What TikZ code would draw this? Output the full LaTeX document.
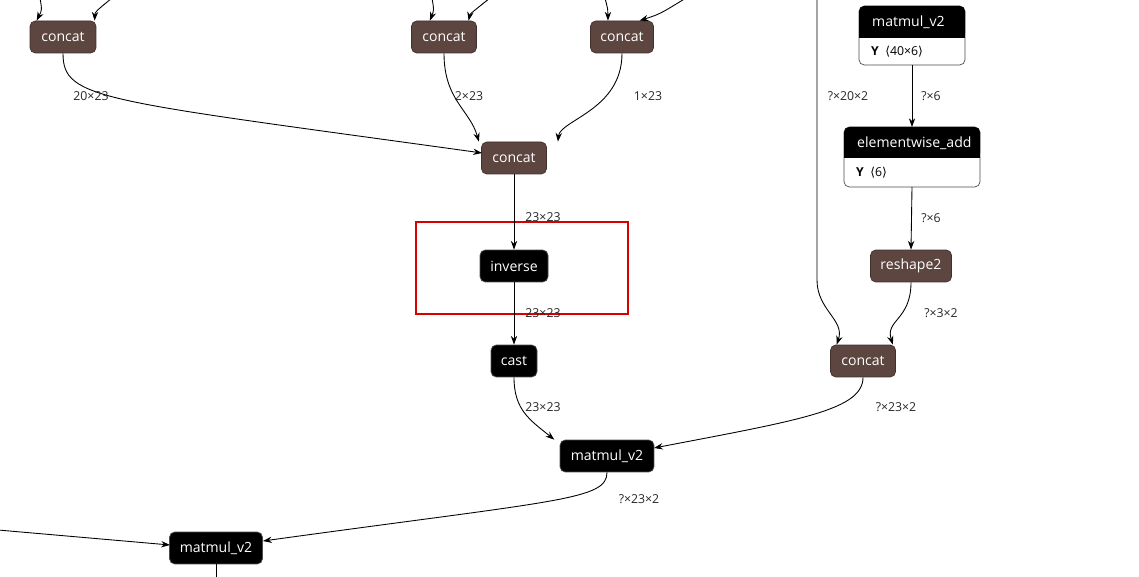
\documentclass[tikz,border=0pt]{standalone}
\usepackage{fontspec}
\setmainfont{Open Sans}
\newfontfamily\djv{DejaVu Sans}
\usetikzlibrary{arrows.meta}
\definecolor{brn}{HTML}{5D4540}
\tikzset{
 x=0.02cm,y=-0.02cm,
 op/.style={rounded corners=3pt,draw=black!70,text=white,font=\fontsize{8}{9}\selectfont,inner sep=0pt,minimum height=0.64cm},
 bop/.style={op,fill=brn,draw=brn!70!black},
 kop/.style={op,fill=black},
 lbl/.style={font=\fontsize{7}{8}\selectfont,text=black!85},
 ed/.style={draw=black,line width=0.5pt,-{Stealth[length=5pt,width=3.6pt]}},
 ln/.style={draw=black,line width=0.5pt}
}
\begin{document}
\begin{tikzpicture}
\useasboundingbox (0,0) rectangle (1139,577);
% nodes
\node[bop,minimum width=1.32cm] (c1) at (63,37) {concat};
\node[bop,minimum width=1.30cm] (c2) at (444,37) {concat};
\node[bop,minimum width=1.26cm] (c3) at (622,37) {concat};
\node[bop,minimum width=1.30cm] (c4) at (514,158) {concat};
\node[kop,minimum width=1.36cm] (inv) at (514,266) {inverse};
\node[kop,minimum width=0.92cm] (cast) at (514,361) {cast};
\node[kop,minimum width=1.88cm] (mm2) at (607,456) {matmul\_v2};
\node[kop,minimum width=1.86cm] (mm1) at (216,548) {matmul\_v2};
\node[bop,minimum width=1.62cm] (rs) at (911,266) {reshape2};
\node[bop,minimum width=1.30cm] (c5) at (863,361) {concat};
% matmul top right (two-part)
\draw[rounded corners=3pt,draw=black!70,fill=white] (859,6) rectangle (965,65);
\fill[rounded corners=3pt] (859,6) rectangle (965,38);
\fill (859,28) rectangle (965,38);
\node[text=white,font=\fontsize{8}{9}\selectfont,anchor=west] at (866,22) {matmul\_v2};
\node[font=\fontsize{7}{8}\selectfont,anchor=west] at (865,51.5) {\textbf{Y}\ \ {\djv⟨}40×6{\djv⟩}};
\coordinate (mm3) at (912,65);
% elementwise_add
\draw[rounded corners=3pt,draw=black!70,fill=white] (844,127) rectangle (980,187);
\fill[rounded corners=3pt] (844,127) rectangle (980,158);
\fill (844,148) rectangle (980,158);
\node[text=white,font=\fontsize{8}{9}\selectfont,anchor=west] at (851,143) {elementwise\_add};
\node[font=\fontsize{7}{8}\selectfont,anchor=west] at (850,173) {\textbf{Y}\ \ {\djv⟨}6{\djv⟩}};
\coordinate (eat) at (912,127);
\coordinate (eab) at (912,187);
% red box
\draw[red!85!black,line width=1pt] (416,222) rectangle (628,314);
% free ends
\coordinate (a1) at (40,-2); \coordinate (a2) at (112,-2);
\coordinate (b1) at (432,-2); \coordinate (b2) at (490,-2);
\coordinate (d1) at (605,-2); \coordinate (d2) at (686,-2);
\coordinate (r0) at (817,-2);
\coordinate (l0) at (-2,530);
\coordinate (bot) at (216,579);
% edges
\draw[ed] (a1) .. controls (42,10) .. ([xshift=-15]c1.north);
\draw[ed] (a2) .. controls (95,12) .. ([xshift=18]c1.north);
\draw[ed] (b1) .. controls (434,10) .. ([xshift=-8]c2.north);
\draw[ed] (b2) .. controls (470,14) .. ([xshift=14]c2.north);
\draw[ed] (d1) .. controls (608,10) .. ([xshift=-8]c3.north);
\draw[ed] (d2) .. controls (660,14) .. ([xshift=10]c3.north);
\draw[ed] (c1.south) .. controls (63,100) and (100,100) .. (482,153);
\draw[ed] (c2.south) .. controls (444,100) and (470,110) .. ([xshift=-20]c4.north);
\draw[ed] (c3.south) .. controls (622,110) and (560,120) .. ([xshift=25]c4.north);
\draw[ed] (c4) -- (inv);
\draw[ed] (inv) -- (cast);
\draw[ed] (cast.south) .. controls (514,410) and (530,420) .. ([xshift=-30]mm2.north);
\draw[ed] (c5.south) .. controls (863,410) and (800,420) .. (654,448);
\draw[ed] (r0) -- (817,280) .. controls (817,310) and (845,320) .. ([xshift=-15]c5.north);
\draw[ed] (mm3) -- (eat);
\draw[ed] (eab) -- (rs.north);
\draw[ed] (rs.south) .. controls (911,320) and (885,320) .. ([xshift=17]c5.north);
\draw[ed] (mm2.south) .. controls (607,500) and (560,500) .. (263,541);
\draw[ed] (l0) -- (170,545);
\draw[ln] (mm1.south) -- (bot);
% labels
\node[lbl] at (91,96) {20×23};
\node[lbl] at (469,96) {2×23};
\node[lbl] at (648,96) {1×23};
\node[lbl] at (543,217) {23×23};
\node[lbl] at (543,313) {23×23};
\node[lbl] at (543,407) {23×23};
\node[lbl] at (848,96) {?×20×2};
\node[lbl] at (931,96) {?×6};
\node[lbl] at (931,218) {?×6};
\node[lbl] at (941,313) {?×3×2};
\node[lbl] at (896,407) {?×23×2};
\node[lbl] at (639,499) {?×23×2};
\end{tikzpicture}
\end{document}
